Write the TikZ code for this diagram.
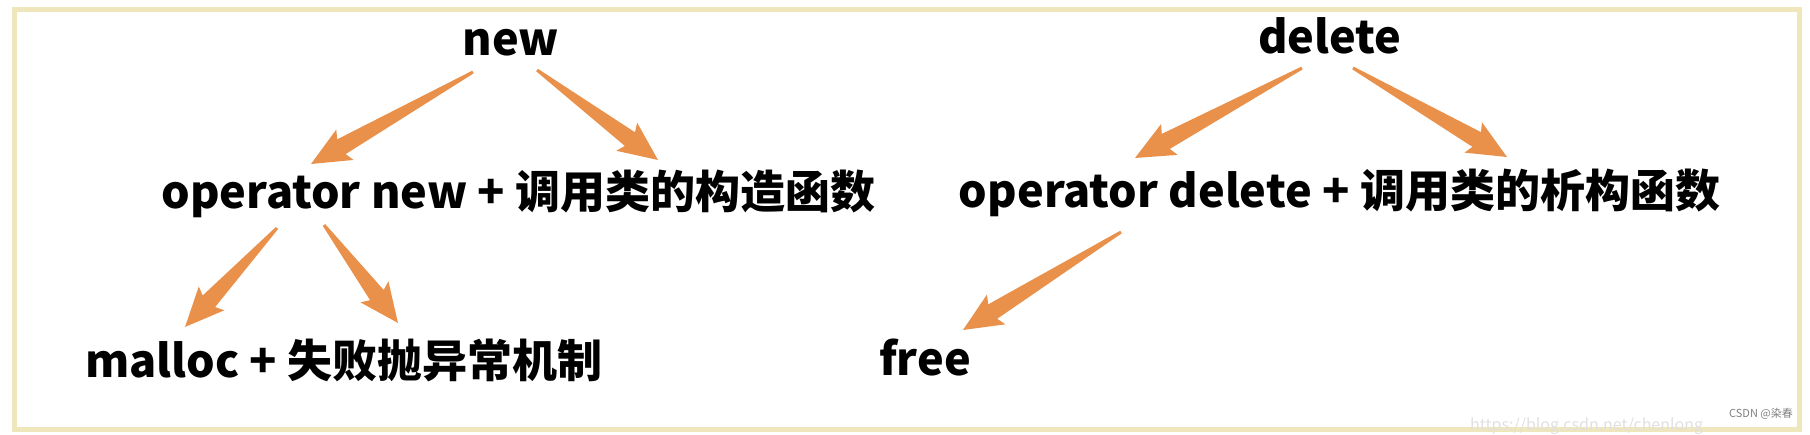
\documentclass[tikz,border=0pt]{standalone}
\usepackage{fontspec}
\setmainfont{Noto Sans CJK SC}
\usetikzlibrary{calc}
\definecolor{framecolor}{RGB}{240,230,188}
\definecolor{arrowcolor}{RGB}{233,145,75}
\tikzset{
	term/.style   = {font=\fontsize{45}{54}\selectfont\bfseries, anchor=base, inner sep=0pt},
	fat/.style    = {fill=arrowcolor},
	hidden/.style = {coordinate},
}
% fat orange arrow from #1 to the tip #2
\newcommand\fatarrow[2]{%
	\path let \p1 = ($(#2)-(#1)$) in
		\pgfextra{\pgfmathsetmacro\arrang{atan2(\y1,\x1)}\pgfmathsetmacro\arrlen{veclen(\x1,\y1)}%
		\xdef\arrang{\arrang}\xdef\arrlen{\arrlen}};
	\fill[fat, shift={(#1)}, rotate=\arrang]
		(0,-1.5) -- (\arrlen-35,-8.5) -- (\arrlen-39,-17.5) -- (\arrlen,0)
		-- (\arrlen-39,17.5) -- (\arrlen-35,8.5) -- (0,1.5) -- cycle;
}

\begin{document}
\begin{tikzpicture}[x=1pt, y=-1pt]
	\useasboundingbox (0,0) rectangle (1810,434);
	\draw[framecolor, line width=5pt] (14.5,9.5) rectangle (1799,429.5);

	% Draw the new tree
	\node[term] (new)      at (511,55)    {new};
	\node[term] (opnew)    at (518.5,208) {operator new + 调用类的构造函数};
	\node[term] (malloc)   at (344,377)   {malloc + 失败抛异常机制};

	% Draw the delete tree
	\node[term] (delete)   at (1330,53)    {delete};
	\node[term] (opdelete) at (1339.5,207) {operator delete + 调用类的析构函数};
	\node[term] (free)     at (925,375)    {free};

	% Arrow ends
	\coordinate (newl)       at ($(new.base)+(-38,17)$);
	\coordinate (newr)       at ($(new.base)+(26,15)$);
	\coordinate (opnewinl)   at ($(opnew.base)+(-207.5,-44)$);
	\coordinate (opnewinr)   at ($(opnew.base)+(139.5,-48)$);
	\coordinate (opnewl)     at ($(opnew.base)+(-241.5,20)$);
	\coordinate (opnewr)     at ($(opnew.base)+(-194.5,17)$);
	\coordinate (mallocinl)  at ($(malloc.base)+(-159,-50)$);
	\coordinate (mallocinr)  at ($(malloc.base)+(54,-54)$);
	\coordinate (deletel)    at ($(delete.base)+(-28,15)$);
	\coordinate (deleter)    at ($(delete.base)+(23,15)$);
	\coordinate (opdelinl)   at ($(opdelete.base)+(-204.5,-49)$);
	\coordinate (opdelinr)   at ($(opdelete.base)+(167.5,-50)$);
	\coordinate (opdell)     at ($(opdelete.base)+(-218.5,25)$);
	\coordinate (freein)     at ($(free.base)+(38,-45)$);

	% Connect everything together
	\fatarrow{newl}{opnewinl}
	\fatarrow{newr}{opnewinr}
	\fatarrow{opnewl}{mallocinl}
	\fatarrow{opnewr}{mallocinr}
	\fatarrow{deletel}{opdelinl}
	\fatarrow{deleter}{opdelinr}
	\fatarrow{opdell}{freein}

	% Watermark
	\node[anchor=base west, inner sep=0pt, text=black!12, font=\fontsize{16}{19}\selectfont] (url) at (1470,430) {https://blog.csdn.net/chenlong};
	\node[anchor=base east, inner sep=0pt, text=black!50, font=\fontsize{11}{13}\selectfont] (csdn) at (1793,417) {CSDN @染春};
\end{tikzpicture}
\end{document}
